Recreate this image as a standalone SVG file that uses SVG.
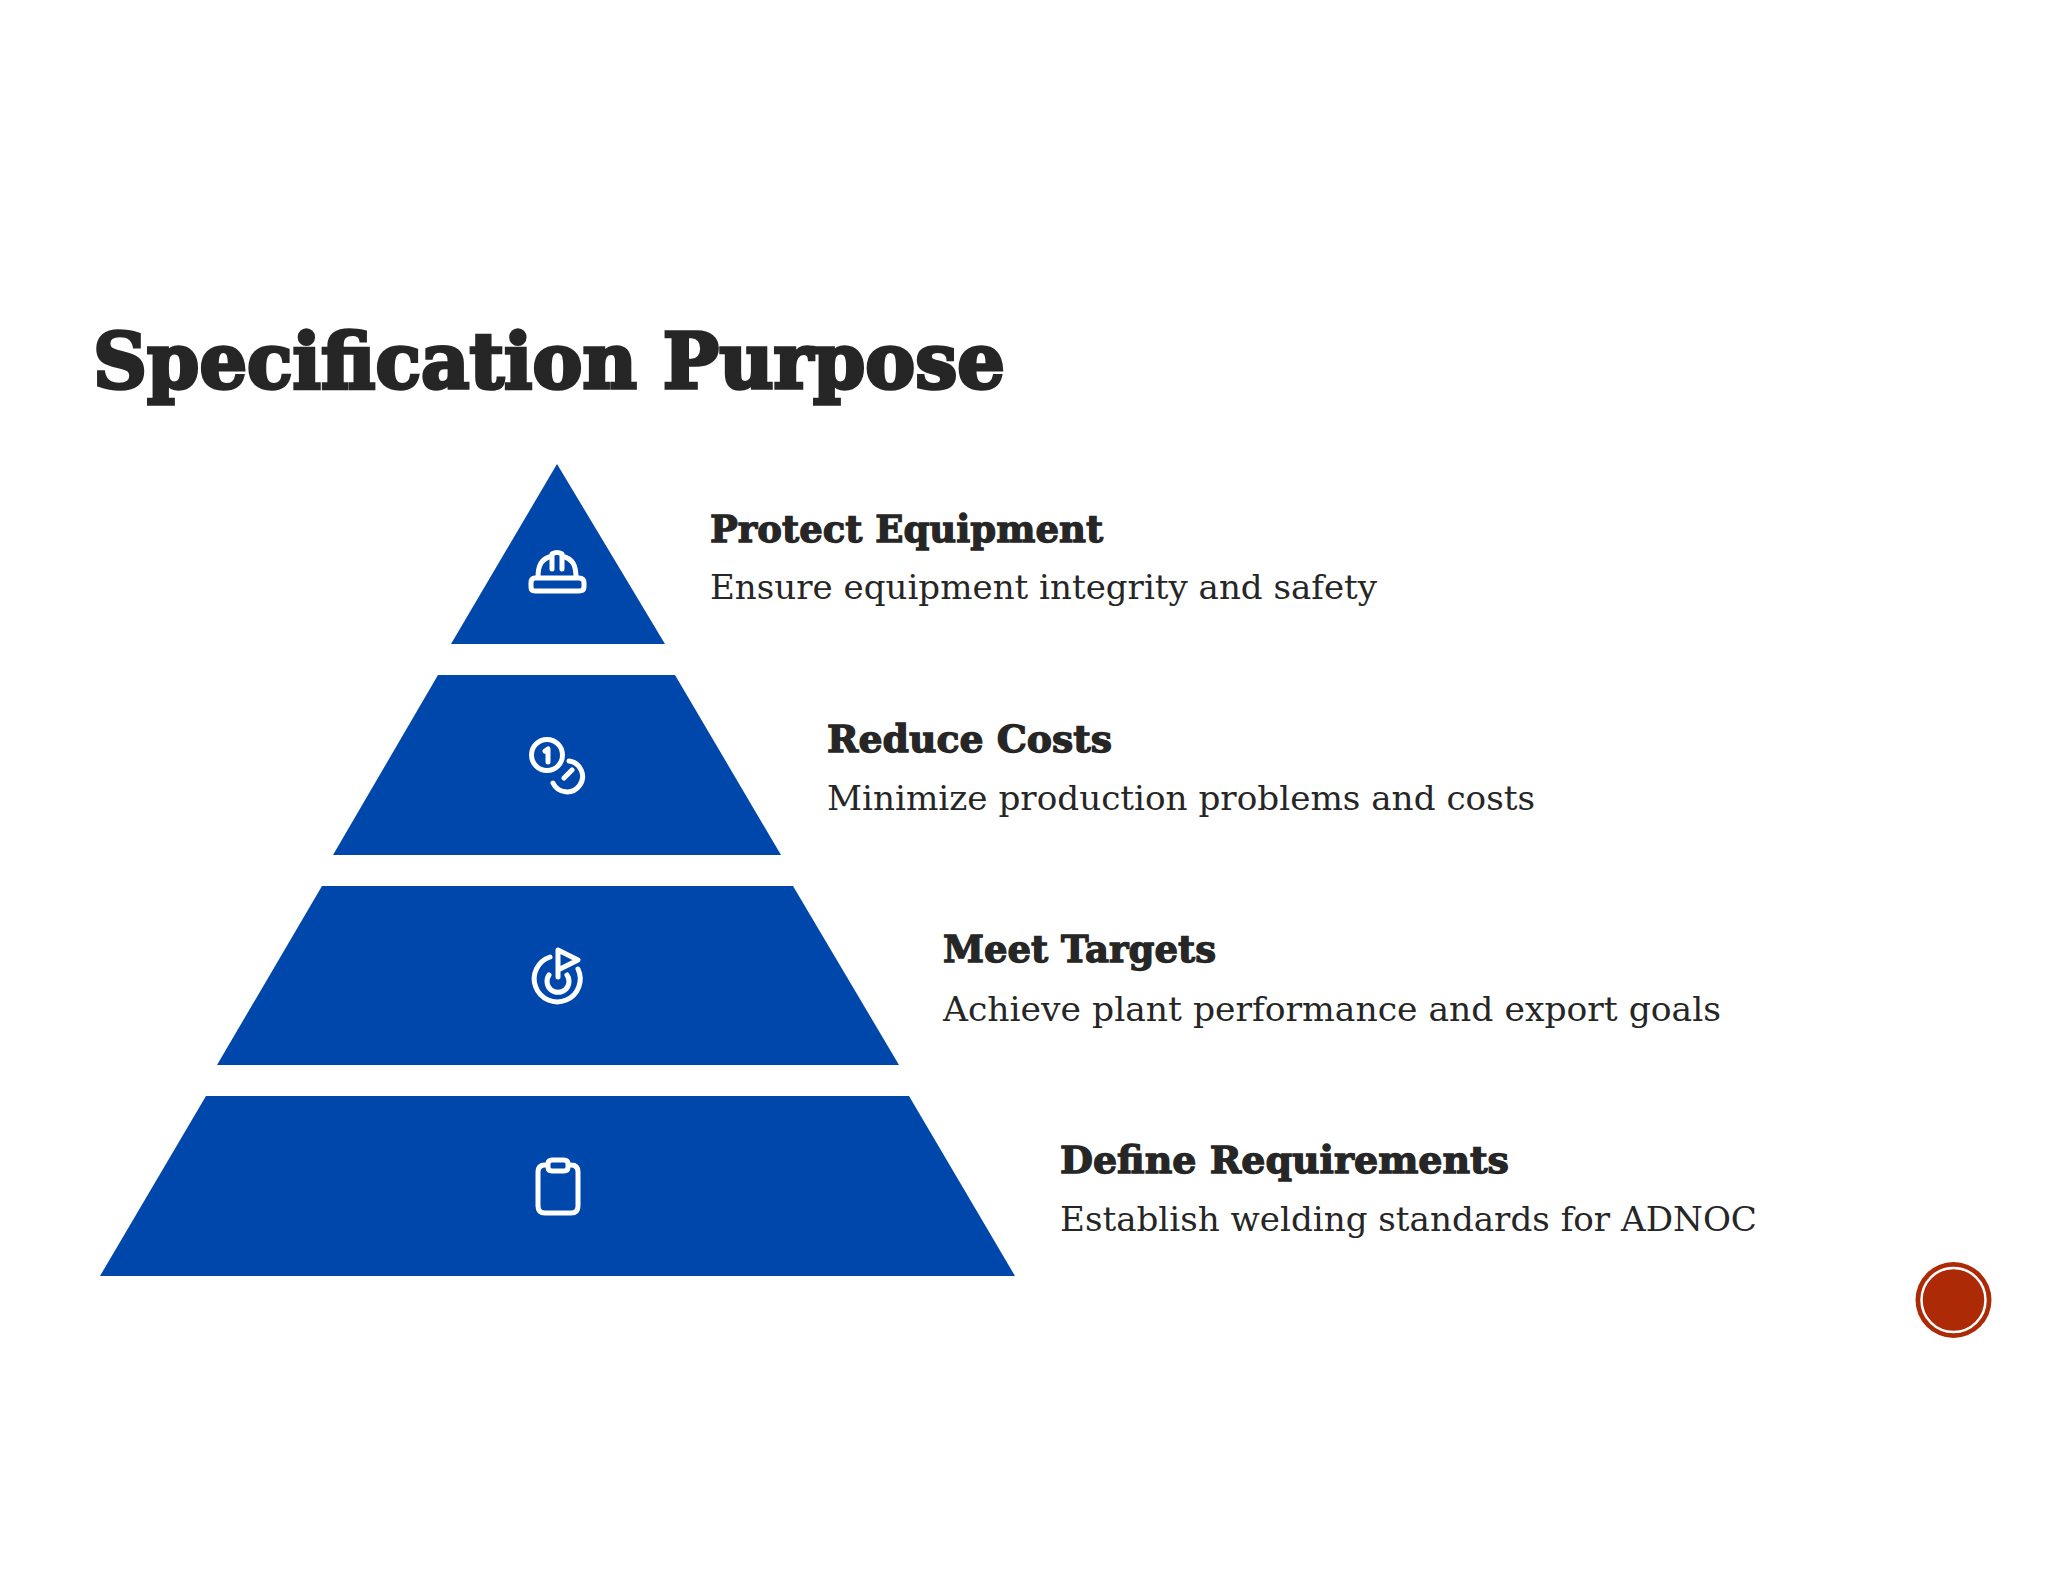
<svg xmlns="http://www.w3.org/2000/svg" width="2048" height="1582" viewBox="0 0 2048 1582">
<style>
.tier{fill:#0047ab}
.ic{fill:none;stroke:#fff;stroke-width:5;stroke-linecap:round;stroke-linejoin:round}
.h{font-family:"DejaVu Serif","Liberation Serif",serif;font-weight:700;font-size:38px;fill:#262626;stroke:#262626;stroke-width:1.3}
.d{font-family:"DejaVu Serif","Liberation Serif",serif;font-size:34px;fill:#262626}
.t{font-family:"DejaVu Serif","Liberation Serif",serif;font-weight:700;font-size:77px;fill:#262626;stroke:#262626;stroke-width:3.500}
</style>
<rect width="2048" height="1582" fill="#fff"/>
<text id="title" class="t" x="93" y="388" textLength="912" lengthAdjust="spacingAndGlyphs">Specification Purpose</text>
<g id="tier-protect">
<polygon class="tier" points="557,464 665,644 451,644"/>
<path class="ic" d="M538 578 C538 565 541 559 552 556 M576 578 C576 565 573 559 562 556 M552 569 V554 Q557 551 562 554 V569 M535 578 H579 Q584 578 584 583 V587 Q584 591 579 591 H535 Q531 591 531 587 V583 Q531 578 535 578Z"/>
<text class="h" x="710" y="542" textLength="393" lengthAdjust="spacingAndGlyphs">Protect Equipment</text>
<text class="d" x="710" y="599" textLength="667" lengthAdjust="spacingAndGlyphs">Ensure equipment integrity and safety</text>
</g>
<g id="tier-reduce">
<polygon class="tier" points="438,675 675,675 781,855 333,855"/>
<circle class="ic" cx="547" cy="755" r="15.500"/>
<path class="ic" d="M545 751 L548 749 V762 M569 761 A15.500 15.500 0 1 1 553 783 M572 770 L564 778"/>
<text class="h" x="827" y="752" textLength="285" lengthAdjust="spacingAndGlyphs">Reduce Costs</text>
<text class="d" x="827" y="810" textLength="708" lengthAdjust="spacingAndGlyphs">Minimize production problems and costs</text>
</g>
<g id="tier-meet">
<polygon class="tier" points="322,886 793,886 899,1065 217,1065"/>
<path class="ic" d="M550 957 A23 23 0 1 0 578 969 M549 975 A11 11 0 1 0 567 975 M558 977 V950 L578 960 L558 970"/>
<text class="h" x="943" y="962" textLength="273" lengthAdjust="spacingAndGlyphs">Meet Targets</text>
<text class="d" x="943" y="1021" textLength="778" lengthAdjust="spacingAndGlyphs">Achieve plant performance and export goals</text>
</g>
<g id="tier-define">
<polygon class="tier" points="206,1096 909,1096 1015,1276 100,1276"/>
<path class="ic" d="M548 1165 H545 Q538 1165 538 1172 V1206 Q538 1213 545 1213 H571 Q578 1213 578 1206 V1172 Q578 1165 571 1165 H568 M552 1160 H564 Q568 1160 568 1164 V1167 Q568 1171 564 1171 H552 Q548 1171 548 1167 V1164 Q548 1160 552 1160Z"/>
<text class="h" x="1060" y="1173" textLength="449" lengthAdjust="spacingAndGlyphs">Define Requirements</text>
<text class="d" x="1060" y="1231" textLength="697" lengthAdjust="spacingAndGlyphs">Establish welding standards for ADNOC</text>
</g>
<g id="badge">
<circle cx="1953.500" cy="1300" r="38" fill="#ad2a06"/>
<circle cx="1953.500" cy="1300" r="32" fill="none" stroke="#fff" stroke-width="2.500"/>
</g>
</svg>
